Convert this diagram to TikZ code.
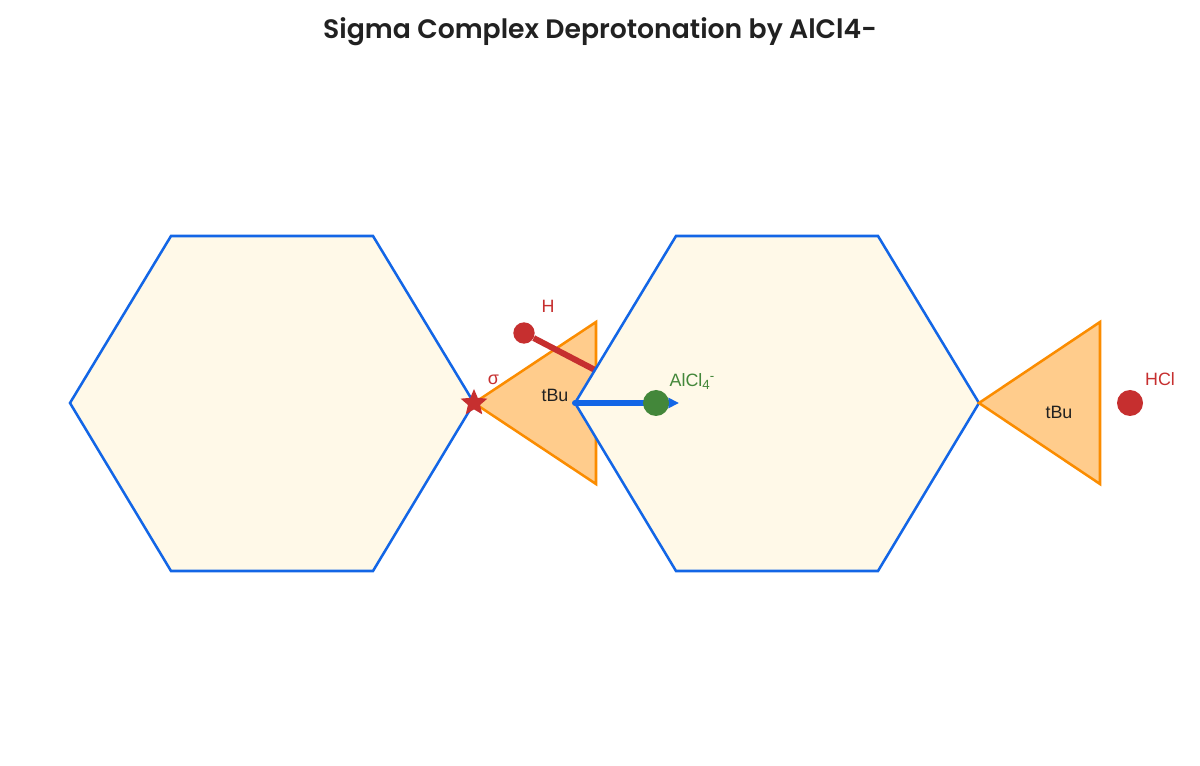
\documentclass[tikz,border=0pt]{standalone}
\usepackage{fontspec}
\setmainfont{Poppins}
\newfontfamily\titlefont{Poppins SemiBold}
\newfontfamily\labelfont{Liberation Sans}
\usepackage{tikz}
\usetikzlibrary{arrows.meta,backgrounds,calc,shapes.geometric}
\definecolor{ringblue}{HTML}{1366E6}
\definecolor{ringfill}{HTML}{FFF9E8}
\definecolor{groupline}{HTML}{FB8C00}
\definecolor{groupfill}{HTML}{FFCC8C}
\definecolor{atomred}{HTML}{C62F2F}
\definecolor{atomgreen}{HTML}{43873A}
\definecolor{titleink}{HTML}{212121}
\tikzset{
  ring/.style={draw=ringblue,fill=ringfill,line width=1.9pt,line join=miter},
  tbugroup/.style={draw=groupline,fill=groupfill,line width=1.9pt,line join=miter},
  atom/.style={circle,inner sep=0pt,minimum size=15.8pt},
  lbl/.style={font=\labelfont\fontsize{13.4}{16}\selectfont,inner sep=0pt},
}
\begin{document}
\begin{tikzpicture}[x=0.75pt,y=-0.75pt]
\useasboundingbox (0,0) rectangle (1200,766);
\node[font=\titlefont\fontsize{20}{24}\selectfont,text=titleink] (title) at (600,32) {Sigma Complex Deprotonation by AlCl4-};
\draw[ring] (70,403) -- (171,236) -- (373,236) -- (474,403) -- (373,571) -- (171,571) -- cycle;
\coordinate (sigmasite) at (474,403);
\draw[tbugroup] (sigmasite) -- (596,322) -- (596,484) -- cycle;
\node[atom,minimum size=16pt,fill=atomred] (hatom) at (524,333) {};
\coordinate (hbondend) at (620,383);
\draw[atomred,line width=4.5pt] (hatom) -- (hbondend);
\draw[ring] (575,403) coordinate (ringtip) -- (676,236) -- (878,236) -- (979,403) coordinate (ringend) -- (878,571) -- (676,571) -- cycle;
\draw[tbugroup] (ringend) -- (1100,322) -- (1100,484) -- cycle;
\node[star,star points=5,star point ratio=2.2,inner sep=0pt,minimum size=21pt,fill=atomred] (sigmastar) at (sigmasite) {};
\node[lbl,text=atomred,font=\labelfont\fontsize{13.5}{14}\selectfont] (sigmalabel) at (493.5,380) {σ};
\node[lbl,text=atomred] (hlabel) at (548,306) {H};
\node[lbl,text=titleink] (tbua) at (555,395) {tBu};
\coordinate (arrowend) at (679,403);
\draw[ringblue,line width=4.5pt,line cap=round,-{Triangle[length=8pt,width=7.5pt]}] (ringtip) -- (arrowend);
\node[atom,fill=atomgreen,minimum size=19.5pt] (alcl) at (656,403) {};
\node[lbl,text=atomgreen] (alcllabel) at (692,381.5) {AlCl\raisebox{-2pt}{\fontsize{10}{10}\selectfont 4}\raisebox{4.5pt}{\fontsize{10}{10}\selectfont -}};
\node[lbl,text=titleink] (tbub) at (1059,412) {tBu};
\node[atom,fill=atomred,minimum size=19.5pt] (hcl) at (1130,403) {};
\node[lbl,text=atomred] (hcllabel) at (1160,379) {HCl};
\end{tikzpicture}
\end{document}
